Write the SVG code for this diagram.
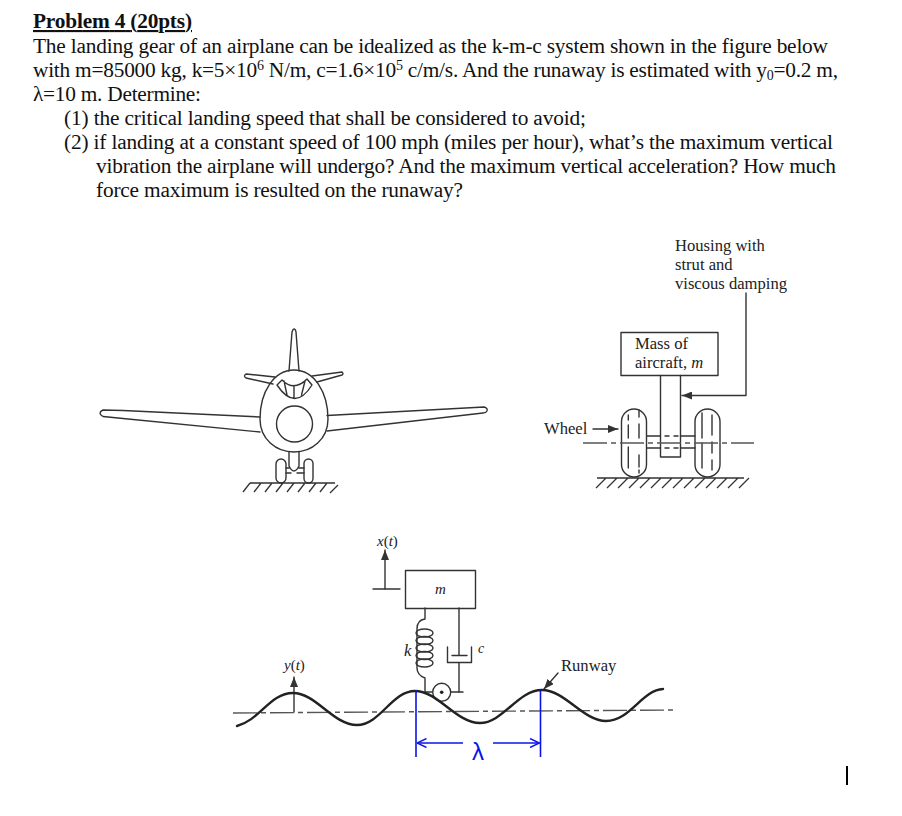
<svg xmlns="http://www.w3.org/2000/svg" width="902" height="816" viewBox="0 0 902 816">
<defs>
<style>
.t{font-family:"Liberation Serif","Times New Roman",serif;font-size:21.33px;fill:#111}
.b{font-weight:bold;text-decoration:underline}
.f{font-family:"Liberation Serif","Times New Roman",serif;font-size:16.6px;fill:#222}
.i{font-style:italic}
.l{fill:none;stroke:#333;stroke-width:1.4;stroke-linecap:round;stroke-linejoin:round}
.h{fill:none;stroke:#333;stroke-width:1.3}
.w{fill:none;stroke:#222;stroke-width:2.4;stroke-linecap:round}
.c{fill:none;stroke:#555;stroke-width:1.4;stroke-dasharray:24 4 5 4}
.bl{fill:none;stroke:#0a14e6;stroke-width:1.6}
</style>
<marker id="a" viewBox="0 0 10 8" refX="10" refY="4" markerWidth="10" markerHeight="8" markerUnits="userSpaceOnUse" orient="auto"><path d="M0 0L10 4L0 8Z" fill="#333"/></marker>
<marker id="o" viewBox="0 0 11 10" refX="10.5" refY="5" markerWidth="11" markerHeight="10" markerUnits="userSpaceOnUse" orient="auto"><path d="M1 0.5L10.5 5L1 9.5" fill="none" stroke="#0a14e6" stroke-width="1.4"/></marker>
</defs>
<rect width="902" height="816" fill="#fff"/>
<g id="problem-text">
<text class="t b" x="33" y="28" textLength="159">Problem 4 (20pts)</text>
<text class="t" x="33" y="53" textLength="795">The landing gear of an airplane can be idealized as the k-m-c system shown in the figure below</text>
<text class="t" x="33" y="77" textLength="805">with m=85000 kg, k=5×10<tspan font-size="14" dy="-7">6</tspan><tspan dy="7"> N/m, c=1.6×10</tspan><tspan font-size="14" dy="-7">5</tspan><tspan dy="7"> c/m/s. And the runaway is estimated with y</tspan><tspan font-size="14" dy="3">0</tspan><tspan dy="-3">=0.2 m,</tspan></text>
<text class="t" x="33" y="101" textLength="168">λ=10 m. Determine:</text>
<text class="t" x="64" y="125" textLength="522">(1) the critical landing speed that shall be considered to avoid;</text>
<text class="t" x="64" y="149" textLength="769">(2) if landing at a constant speed of 100 mph (miles per hour), what’s the maximum vertical</text>
<text class="t" x="96" y="173" textLength="740">vibration the airplane will undergo? And the maximum vertical acceleration? How much</text>
<text class="t" x="96" y="197" textLength="367">force maximum is resulted on the runaway?</text>
</g>
<g id="airplane">
<path class="l" d="M289 371L292 332Q293 329 294 329Q295.500 329 296 332L299 371"/>
<path class="l" d="M275 377L246 374Q243 376 246 378L273 384M312 376L342 372Q344 374 342 375L317 382"/>
<path class="l" d="M294 370C314 370 328 392 328 419C328 439 312 452 294 452C276 452 260 439 260 419C260 392 274 370 294 370Z"/>
<circle class="l" cx="294.500" cy="424" r="18"/>
<path class="l" stroke-width="1.1" d="M277 385L282 380Q294 392 307 379L312 385Q295 412 277 385ZM294 385.500L294 398M284 381L287 395M305 381L301.500 395"/>
<path class="l" d="M260 417L123 410.500L103 410Q97 413 103 416.500L123 418.500L260 432"/>
<path class="l" d="M327 415.500L484 407Q488 408 487 411Q486 413 483 413L327 431"/>
<path class="l" d="M289 452L289 466Q294 476 299 466L299 452M286 468L289 468M299 468L304 468M286 473L291 473M297 473L304 473"/>
<rect class="l" x="276" y="459" width="10" height="24" rx="5"/>
<rect class="l" x="304" y="459" width="9" height="24" rx="4.500"/>
<path class="h" d="M250 483L335 483M250 483L243 492M261 483L254 492M272 483L265 492M283 483L276 492M294 483L287 492M305 483L298 492M316 483L309 492M327 483L320 492M338 485L330 493"/>
</g>
<g id="gear">
<rect class="l" x="621" y="332.500" width="97" height="43"/>
<path class="l" d="M660.500 375.500L660.500 457L680.500 457L680.500 375.500"/>
<rect class="l" x="621.500" y="409" width="25" height="68" rx="12.500"/>
<rect class="l" x="695" y="409" width="25" height="68" rx="12.500"/>
<path class="l" d="M647 436L660.500 436M680.500 436L695 436M647 448L660.500 448M680.500 448L695 448M665 436L669 436M674 436L678 436M665 448L669 448M674 448L678 448"/>
<path class="l" d="M628.300 415L628.300 420M628.300 425L628.300 438M628.300 447L628.300 468M639 410L639 417M702 413L702 438M702 443L702 468M712 415L712 435M712 442L712 453M712 460L712 470"/>
<path class="l" stroke-width="2" d="M639 424L639 438M639 455L639 467M639 470L639 473"/>
<path class="c" d="M583 443L754 443"/>
<path class="h" d="M597 478L744 478M606 478L596 488M617 478L607 488M628 478L618 488M639 478L629 488M650 478L640 488M661 478L651 488M672 478L662 488M683 478L673 488M694 478L684 488M705 478L695 488M716 478L706 488M727 478L717 488M738 478L728 488M749 478L739 488"/>
<text class="f" x="675" y="251">Housing with</text>
<text class="f" x="675" y="269.500">strut and</text>
<text class="f" x="675" y="288.500">viscous damping</text>
<text class="f" x="635" y="349">Mass of</text>
<text class="f" x="635" y="368">aircraft, <tspan class="i">m</tspan></text>
<text class="f" x="544" y="434">Wheel</text>
</g>
<g id="model">
<rect class="l" x="405.500" y="570.500" width="70" height="38"/>
<text class="f i" x="435" y="594" style="font-size:15px">m</text>
<path class="l" d="M425 608L425 619Q417 620 417 629L417 668Q417 675 425 678L425 692L463 692"/>
<ellipse class="l" cx="424.500" cy="633" rx="8.500" ry="4"/><ellipse class="l" cx="424.500" cy="640.500" rx="8.500" ry="4"/><ellipse class="l" cx="424.500" cy="648" rx="8.500" ry="4"/><ellipse class="l" cx="424.500" cy="655.500" rx="8.500" ry="4"/><ellipse class="l" cx="424.500" cy="663" rx="8.500" ry="4"/>
<circle cx="441.700" cy="692.300" r="9" fill="#fff" stroke="#333" stroke-width="1.400"/><circle cx="441.700" cy="692.300" r="1.800" fill="#222"/>
<path class="l" d="M459 608L459 655.500M452 655.500L467 655.500M447.500 647L447.500 662.500L471.500 662.500L471.500 647M459 662.500L459 692"/>
<text class="f i" x="404" y="656">k</text>
<text class="f i" x="478" y="653" style="font-size:14px">c</text>
<text class="f" x="377" y="546" style="font-size:15px"><tspan class="i">x</tspan>(<tspan class="i">t</tspan>)</text>
<text class="f" x="284" y="670" style="font-size:15px"><tspan class="i">y</tspan>(<tspan class="i">t</tspan>)</text>
<text class="f" x="561" y="671">Runway</text>
</g>
<g id="connectors">
<path class="l" d="M746 293L746 395.500L682 395.500" marker-end="url(#a)"/>
<path class="l" d="M593 429L618 429" marker-end="url(#a)"/>
<path class="l" d="M385 589L385 550" marker-end="url(#a)" stroke-width="1.800"/>
<path class="l" d="M373 589L400 589"/>
<path class="l" d="M294 712L294 677" marker-end="url(#a)"/>
<path class="l" d="M558 673L544 689" marker-end="url(#a)"/>
</g>
<g id="runway">
<path class="c" d="M233 713L676 710"/>
<path class="w" d="M237 726C260 720 270 693 293 693C316 693 333 725 357 725C380 725 392 691 415 691C438 691 456 723 480 723C503 723 518 690 542 690C565 690 583 721 606 721C630 721 642 690 663 689"/>
</g>
<g id="wavelength">
<path class="bl" d="M416 690L416 757M540.500 690L540.500 757"/>
<path class="bl" d="M463 743L417 743" marker-end="url(#o)"/>
<path class="bl" d="M493 743L539.500 743" marker-end="url(#o)"/>
<text x="478" y="760" text-anchor="middle" font-family="Liberation Sans,Arial,sans-serif" font-size="24" fill="#0a14e6">λ</text>
</g>
<g id="cursor"><path d="M847 766L847 785" stroke="#000" stroke-width="2"/></g>
</svg>
